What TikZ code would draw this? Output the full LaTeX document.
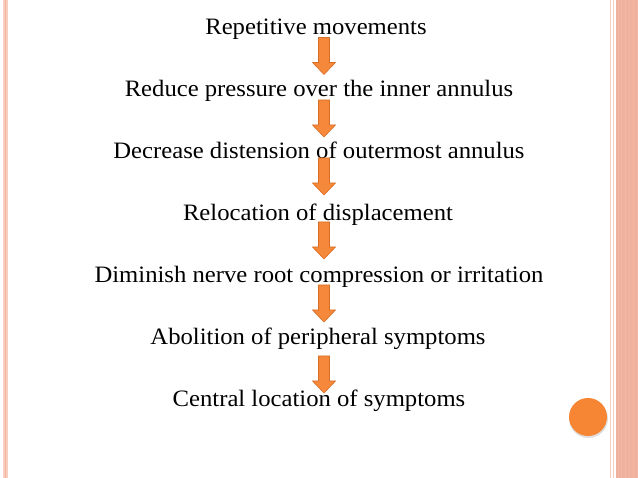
\documentclass[tikz,border=0pt]{standalone}
\usepackage{fontspec}
\setmainfont[FakeStretch=1.05]{Liberation Serif}
\usetikzlibrary{shadows}
\definecolor{arrowfill}{RGB}{245,136,58}
\definecolor{arrowline}{RGB}{214,110,40}
\definecolor{bandlight}{RGB}{250,206,190}
\definecolor{banddark}{RGB}{238,170,148}
\definecolor{dotfill}{RGB}{247,134,52}
\tikzset{
  lbl/.style={anchor=base, inner sep=0pt, font=\fontsize{23.5}{28}\selectfont, text=black},
  downarrow/.style={fill=arrowfill, draw=arrowline, line width=0.6pt, line join=miter}
}
\newcommand{\blockarrow}[2]{%
  \draw[downarrow] (#1-5.5,#2) -- (#1+5.5,#2) -- (#1+5.5,#2+25) -- (#1+11.5,#2+25)
    -- (#1,#2+37) -- (#1-11.5,#2+25) -- (#1-5.5,#2+25) -- cycle;}
\begin{document}
\begin{tikzpicture}[x=1pt,y=-1pt]
\useasboundingbox (0,0) rectangle (638,478);
\fill[white] (0,0) rectangle (638,478);
% left border
\fill[bandlight] (3,0) rectangle (7.5,478);
\fill[banddark!70!bandlight] (4.5,0) rectangle (6,478);
% right border
\fill[bandlight] (610,0) rectangle (611.3,478);
\fill[bandlight] (612.6,0) rectangle (613.8,478);
\fill[banddark!80!bandlight] (616,0) rectangle (638,478);
\foreach \xx in {617.5,621,625,629,633,636.5}
  \fill[banddark!60!bandlight] (\xx,0) rectangle (\xx+1.2,478);
% dot
\fill[gray!25] (588.5,418.5) circle (19.5);
\node[circle, fill=dotfill, minimum size=38pt, inner sep=0pt] (dot) at (588,417) {};
% labels
\node[lbl] (t1) at (316,34.5) {Repetitive movements};
\node[lbl] (t2) at (319,96.5) {Reduce pressure over the inner annulus};
\node[lbl] (t3) at (319,158.5) {Decrease distension of outermost annulus};
\node[lbl] (t4) at (318,220.5) {Relocation of displacement};
\node[lbl] (t5) at (319,282.5) {Diminish nerve root compression or irritation};
\node[lbl] (t6) at (318,344.5) {Abolition of peripheral symptoms};
\node[lbl] (t7) at (319,406.5) {Central location of symptoms};
% arrows
\blockarrow{324}{37.5}
\blockarrow{324}{100}
\blockarrow{324}{158}
\blockarrow{324}{222}
\blockarrow{324}{285}
\blockarrow{324}{356}
\end{tikzpicture}
\end{document}
